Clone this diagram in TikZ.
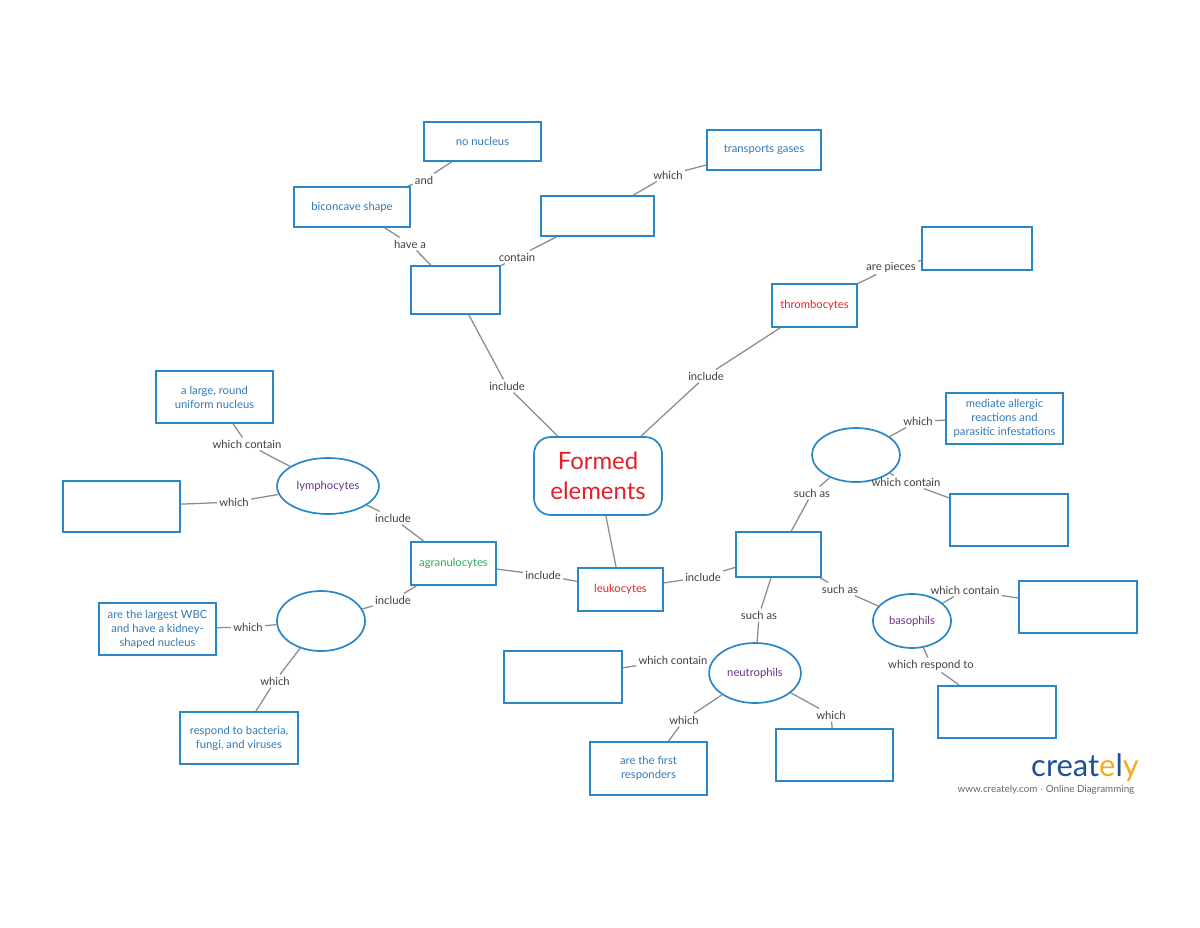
\documentclass[tikz,border=0pt]{standalone}
\usepackage{fontspec}
\setmainfont{Lato}
\usetikzlibrary{shapes.geometric}
\begin{document}
\begin{tikzpicture}[x=0.025cm,y=-0.025cm,
  box/.style={draw=boxblue,line width=1.2pt,text=txtblue,font=\fontsize{8}{10}\selectfont,align=center,inner sep=1pt},
  ell/.style={draw=boxblue,line width=1.2pt,ellipse,font=\fontsize{8}{10}\selectfont},
  lab/.style={font=\fontsize{8}{9}\selectfont,text=black!75,inner sep=1.5pt},
  ln/.style={draw=black!45,line width=0.9pt}]
\definecolor{boxblue}{RGB}{40,135,200}
\definecolor{txtblue}{RGB}{50,120,180}
\definecolor{redt}{RGB}{230,30,40}
\definecolor{purp}{RGB}{100,50,130}
\definecolor{grn}{RGB}{40,170,90}
\useasboundingbox (0,0) rectangle (1200,927);
% boxes
\node[box,minimum width=2.925cm,minimum height=0.975cm] (nonuc) at (482.5,141.5) {no nucleus};
\node[box,minimum width=2.9cm,minimum height=1cm] (bicon) at (352,207) {biconcave shape};
\node[box,minimum width=2.225cm,minimum height=1.2cm] (rbc) at (455.5,290) {};
\node[box,minimum width=2.825cm,minimum height=1cm] (hemo) at (597.5,216) {};
\node[box,minimum width=2.85cm,minimum height=1cm] (trans) at (764,150) {transports gases};
\node[box,minimum width=2.75cm,minimum height=1.075cm] (pieces) at (977,248.5) {};
\node[box,minimum width=2.125cm,minimum height=1.075cm,text=redt] (thromb) at (814.5,305.5) {thrombocytes};
\node[draw=boxblue,line width=1.2pt,rounded corners=12pt,minimum width=3.2cm,minimum height=1.95cm,text=redt,align=center,font=\fontsize{17}{21}\selectfont] (formed) at (598,476) {Formed\\elements};
\node[box,minimum width=2.125cm,minimum height=1.075cm,text=redt] (leuk) at (620.5,589.5) {leukocytes};
\node[box,minimum width=2.125cm,minimum height=1.075cm,text=grn] (agran) at (453.5,563.5) {agranulocytes};
\node[box,minimum width=2.125cm,minimum height=1.125cm] (gran) at (778.5,554.5) {};
\node[ell,minimum width=2.1cm,minimum height=1.4cm,text=purp] (lymph) at (328,486) {lymphocytes};
\node[box,minimum width=2.925cm,minimum height=1.3cm] (round) at (214.5,397) {a large, round\\uniform nucleus};
\node[box,minimum width=2.925cm,minimum height=1.275cm] (lblank) at (121.5,506.5) {};
\node[ell,minimum width=2.2cm,minimum height=1.5cm] (mono) at (321,621) {};
\node[box,minimum width=2.925cm,minimum height=1.3cm] (largest) at (157.5,629) {are the largest WBC\\and have a kidney-\\shaped nucleus};
\node[box,minimum width=2.95cm,minimum height=1.3cm] (resp) at (239,738) {respond to bacteria,\\fungi, and viruses};
\node[ell,minimum width=2.2cm,minimum height=1.35cm] (eos) at (856,455) {};
\node[box,minimum width=2.925cm,minimum height=1.275cm] (medi) at (1004.5,418.5) {mediate allergic\\reactions and\\parasitic infestations};
\node[box,minimum width=2.95cm,minimum height=1.3cm] (eblank) at (1009,520) {};
\node[ell,minimum width=1.9cm,minimum height=1.35cm,text=purp] (baso) at (912,621) {basophils};
\node[box,minimum width=2.95cm,minimum height=1.3cm] (bb1) at (1078,607) {};
\node[box,minimum width=2.95cm,minimum height=1.3cm] (bb2) at (997,712) {};
\node[ell,minimum width=1.8cm,minimum height=1.5cm,text=purp] (neut) at (755,673) {neutrophils};
\node[box,minimum width=2.95cm,minimum height=1.3cm] (nb1) at (563,677) {};
\node[box,minimum width=2.925cm,minimum height=1.325cm] (first) at (648.5,768.5) {are the first\\responders};
\node[box,minimum width=2.925cm,minimum height=1.3cm] (nb2) at (834.5,755) {};
% labels
\node[lab] (l1) at (410,244) {have a};
\node[lab] (l2) at (424,180) {and};
\node[lab] (l3) at (517,257) {contain};
\node[lab] (l4) at (668,175) {which};
\node[lab] (l5) at (507,386) {include};
\node[lab] (l6) at (706,376) {include};
\node[lab] (l7) at (891,267) {are pieces};
\node[lab] (l8) at (543,575) {include};
\node[lab] (l9) at (393,518) {include};
\node[lab] (l10) at (393,600) {include};
\node[lab] (l11) at (247,444) {which contain};
\node[lab] (l12) at (234,502) {which};
\node[lab] (l13) at (248,627) {which};
\node[lab] (l14) at (275,681) {which};
\node[lab] (l15) at (703,577) {include};
\node[lab] (l16) at (812,493) {such as};
\node[lab] (l17) at (840,589) {such as};
\node[lab] (l18) at (759,615) {such as};
\node[lab] (l19) at (918,421) {which};
\node[lab] (l20) at (906,482) {which contain};
\node[lab] (l21) at (965,590) {which contain};
\node[lab] (l22) at (931,665) {which respond to};
\node[lab] (l23) at (673,660) {which contain};
\node[lab] (l24) at (684,720) {which};
\node[lab] (l25) at (831,715) {which};
% connectors
\draw[ln] (rbc) -- (l1) -- (bicon);
\draw[ln] (bicon) -- (l2) -- (nonuc);
\draw[ln] (rbc) -- (l3) -- (hemo);
\draw[ln] (hemo) -- (l4) -- (trans);
\draw[ln] (formed) -- (l5) -- (rbc);
\draw[ln] (formed) -- (l6) -- (thromb);
\draw[ln] (thromb) -- (l7) -- (pieces);
\draw[ln] (formed) -- (leuk);
\draw[ln] (leuk) -- (l8) -- (agran);
\draw[ln] (agran) -- (l9) -- (lymph);
\draw[ln] (agran) -- (l10) -- (mono);
\draw[ln] (lymph) -- (l11) -- (round);
\draw[ln] (lymph) -- (l12) -- (lblank);
\draw[ln] (mono) -- (l13) -- (largest);
\draw[ln] (mono) -- (l14) -- (resp);
\draw[ln] (leuk) -- (l15) -- (gran);
\draw[ln] (gran) -- (l16) -- (eos);
\draw[ln] (gran) -- (l17) -- (baso);
\draw[ln] (gran) -- (l18) -- (neut);
\draw[ln] (eos) -- (l19) -- (medi);
\draw[ln] (eos) -- (l20) -- (eblank);
\draw[ln] (baso) -- (l21) -- (bb1);
\draw[ln] (baso) -- (l22) -- (bb2);
\draw[ln] (neut) -- (l23) -- (nb1);
\draw[ln] (neut) -- (l24) -- (first);
\draw[ln] (neut) -- (l25) -- (nb2);
% logo
\definecolor{logob}{RGB}{30,80,150}
\definecolor{logoo}{RGB}{245,170,30}
\node[font=\fontsize{22}{24}\selectfont,inner sep=0] (logo) at (1085,768) {\textcolor{logob}{creat}\textcolor{logoo}{e}\textcolor{logob}{l}\textcolor{logoo}{y}};
\node[font=\fontsize{7}{8}\selectfont,text=black!60,inner sep=0] (logot) at (1046,790) {www.creately.com $\cdot$ Online Diagramming};
\end{tikzpicture}
\end{document}
